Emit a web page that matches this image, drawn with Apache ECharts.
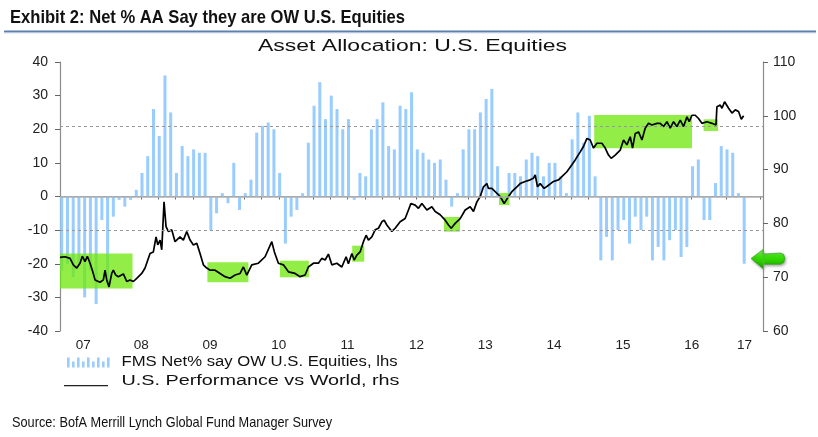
<!DOCTYPE html>
<html>
<head>
<meta charset="utf-8">
<script src="https://cdn.jsdelivr.net/npm/echarts@6/dist/echarts.min.js"></script>
<style>html,body{margin:0;padding:0;background:#fff;}#c{width:818px;height:437px;}</style>
</head>
<body>
<div id="c"></div>
<script>
// ---------- data ----------
// x positions are months since Jan 2007 (0 = Jan 2007)
const surveyStart = [2007, 5]; // first survey month (May 2007)
const fmsValues = [-22,-20,-24,-20,-30,-22,-32,-7,-26,-6,-1,-3,-1,2,7,12,26,18,36,25,7,15,12,14,13,13,-10,-5,1,-2,10,-4,1,5,19,21,22,20,7,-14,-6,-4,1,16,27,34,23,30,26,20,23,-1,7,6,20,23,28,15,14,27,26,31,14,13,11,10,11,5,-3,1,14,20,20,25,29,32,9,-1,7,7,6,11,13,12,6,10,10,6,1,17,25,16,24,6,-19,-12,-19,-10,-7,-14,-6,-10,-6,-19,-15,-19,-13,-10,-18,-15,9,11,-7,-7,4,15,14,13,1,-20];
const perfPoints = [[3.85,73.7],[4.73,73.8],[5.60,73.5],[6.17,72.3],[6.77,71.7],[7.34,72.6],[7.74,73.9],[8.21,72.9],[8.62,73.9],[9.09,72.6],[9.49,71.3],[9.96,69.5],[10.83,69.05],[11.41,69.5],[11.70,71.3],[12.00,69.5],[12.40,68.2],[12.87,70.7],[13.15,71.3],[13.57,70.4],[14.02,70.1],[14.90,70.6],[15.49,69.2],[16.06,69.5],[16.64,69.2],[17.23,69.8],[18.10,70.7],[18.68,71.7],[19.55,74.4],[20.13,74.7],[20.60,77.5],[20.90,76.0],[21.30,76.9],[21.59,75.1],[21.99,84.0],[22.34,79.4],[22.74,78.5],[23.34,78.8],[23.91,76.6],[24.78,77.5],[25.36,76.9],[25.95,78.5],[26.53,76.9],[27.11,76.0],[27.70,76.3],[28.27,74.4],[28.85,72.3],[29.44,71.7],[30.02,71.3],[30.89,71.3],[31.76,70.7],[32.63,70.1],[33.51,69.8],[34.38,70.4],[35.25,70.7],[35.83,71.9],[36.42,70.4],[37.29,72.3],[38.44,72.6],[39.61,73.8],[40.78,76.6],[41.23,74.7],[41.93,72.6],[42.80,72.3],[43.68,71.0],[44.84,70.7],[45.72,70.1],[46.59,70.4],[47.16,71.9],[48.04,72.6],[48.91,72.6],[49.50,73.5],[50.08,73.2],[50.65,74.3],[51.25,72.3],[52.12,72.6],[52.99,71.9],[53.74,73.8],[54.14,72.5],[54.74,74.4],[55.14,73.2],[55.61,74.1],[56.18,74.7],[56.76,76.6],[57.23,77.8],[57.63,76.9],[58.22,77.5],[58.80,78.8],[59.38,79.1],[59.97,80.3],[60.37,80.6],[60.84,79.7],[61.71,78.5],[62.29,79.1],[63.16,80.3],[64.03,80.9],[64.61,82.5],[65.03,83.7],[65.78,83.4],[66.35,82.8],[66.95,83.7],[67.82,82.5],[68.69,83.1],[69.27,82.2],[70.14,81.6],[71.01,80.6],[71.59,79.7],[72.06,79.1],[72.76,80.0],[73.63,80.9],[74.50,82.5],[75.37,83.1],[75.95,82.2],[76.54,84.0],[77.12,85.0],[77.69,86.8],[78.28,87.4],[78.56,86.5],[79.15,86.5],[79.73,85.9],[80.60,85.0],[81.30,83.7],[82.05,85.0],[82.64,85.9],[83.52,86.8],[84.09,87.4],[84.96,87.8],[85.83,88.1],[86.41,88.4],[86.71,89.0],[87.11,86.8],[87.58,87.4],[88.28,86.5],[89.03,87.1],[89.90,87.8],[90.77,88.1],[91.36,88.7],[92.24,89.6],[93.11,90.9],[93.68,91.8],[94.56,93.3],[95.13,94.3],[95.73,95.8],[96.30,95.5],[96.88,94.0],[97.47,94.9],[98.34,94.9],[98.92,94.0],[99.49,92.7],[99.96,92.1],[100.66,92.7],[101.53,93.6],[102.11,95.5],[102.70,94.6],[103.28,96.1],[103.68,94.0],[104.15,96.7],[104.73,97.0],[105.32,95.5],[105.89,97.7],[106.47,98.6],[107.06,98.3],[107.93,98.6],[108.51,98.6],[109.09,98.0],[109.68,98.9],[110.25,97.7],[110.83,98.9],[111.42,98.0],[112.00,99.2],[112.58,98.0],[113.17,99.8],[113.57,98.9],[114.04,100.1],[114.61,100.1],[115.19,99.5],[115.78,98.6],[116.66,98.9],[117.53,98.6],[118.23,98.3],[118.40,101.7],[118.98,102.0],[119.28,101.4],[119.73,102.6],[120.43,101.4],[121.02,100.5],[121.60,101.1],[122.17,100.8],[122.65,99.35],[123.05,100.0]];
// highlight boxes: [xStart, xEnd, rhsLow, rhsHigh]
const highlightBoxes = [[3.85,16.5,67.9,74.4],[29.55,36.7,69.05,72.8],[42.2,47.25,69.98,73.07],[54.8,56.9,72.88,75.86],[70.8,73.6,78.46,81.2],[80.4,82.2,83.4,85.65],[97.0,114.05,93.96,100.15],[116.07,118.6,97.17,99.35]];
const refLevels = [21, -10]; // dotted reference lines (lhs)
const yearLabels = ['07','08','09','10','11','12','13','14','15','16','17'];
const seriesNames = ['FMS Net% say OW U.S. Equities, lhs', 'U.S. Performance vs World, rhs'];
const titleText = 'Exhibit 2: Net % AA Say they are OW U.S. Equities';
const subtitleText = 'Asset Allocation: U.S. Equities';
const sourceText = 'Source: BofA Merrill Lynch Global Fund Manager Survey';

// ---------- derived ----------
const X_MIN = 3.85, X_MAX = 126.43;
const firstIdx = (surveyStart[0] - 2007) * 12 + (surveyStart[1] - 1);
const barData = fmsValues.map((v, i) => [firstIdx + i + 0.15, v]);
const tickVals = [];
for (let m = 6; m <= 126; m += 3) tickVals.push(m);
const labelVals = yearLabels.map((l, i) => {
  const s = Math.max(i * 12, X_MIN), e = Math.min((i + 1) * 12, X_MAX);
  return (s + e) / 2;
});

const mctx = document.createElement('canvas').getContext('2d');
function fitScale(text, font, target) { mctx.font = font; return target / mctx.measureText(text).width; }
const ARIAL = "'Liberation Sans', Arial, sans-serif";
const titleFont = 'bold 18.5px ' + ARIAL;
const subFont = '16px ' + ARIAL;
const legFont = '14px ' + ARIAL;
const srcFont = '15px ' + ARIAL;

function txt(text, font, x, y, width, align) {
  return {type: 'text', x: x, y: y, scaleX: fitScale(text, font, width), scaleY: 1, silent: true,
    style: {text: text, font: font, fill: '#111', textAlign: align || 'left', textVerticalAlign: 'middle'}};
}

// legend bar icon (decorative mini bars)
const legendBars = [];
const iconHeights = [10, 6, 10, 6, 10, 6, 10, 6, 10];
iconHeights.forEach((h, k) => legendBars.push({type: 'rect', silent: true,
  shape: {x: 67 + k * 5, y: 367.5 - h, width: 2.6, height: h}, style: {fill: '#99ccff'}}));

const chart = echarts.init(document.getElementById('c'), null, {renderer: 'canvas'});
const axisGray = '#8c8c8c';
chart.setOption({
  animation: false,
  backgroundColor: '#fff',
  grid: {left: 60, right: 55, top: 62, bottom: 106, containLabel: false},
  xAxis: {
    type: 'value', min: X_MIN, max: X_MAX,
    axisLine: {show: true, lineStyle: {color: axisGray, width: 1.2}},
    axisTick: {show: true, length: 3, inside: false, customValues: tickVals, lineStyle: {color: '#666'}},
    axisLabel: {customValues: labelVals, margin: 7, fontFamily: ARIAL, fontSize: 13.5, color: '#222',
      formatter: v => yearLabels[Math.min(yearLabels.length - 1, Math.floor(v / 12))]},
    splitLine: {show: false}
  },
  yAxis: [
    {type: 'value', min: -40, max: 40, interval: 10, position: 'left',
     axisLine: {show: true, lineStyle: {color: axisGray, width: 1.2}},
     axisTick: {show: true, length: 5, lineStyle: {color: '#666'}},
     axisLabel: {margin: 12, fontFamily: ARIAL, fontSize: 14, color: '#222'},
     splitLine: {show: false}},
    {type: 'value', min: 60, max: 110, interval: 10, position: 'right',
     axisLine: {show: true, lineStyle: {color: axisGray, width: 1.2}},
     axisTick: {show: true, length: 5, lineStyle: {color: '#666'}},
     axisLabel: {margin: 10, fontFamily: ARIAL, fontSize: 14, color: '#222'},
     splitLine: {show: false}}
  ],
  series: [
    {name: seriesNames[0], type: 'bar', yAxisIndex: 0, barWidth: 3, z: 2,
     itemStyle: {color: '#99ccff'}, data: barData,
     markLine: {silent: true, symbol: 'none', label: {show: false},
       data: [{yAxis: 0, lineStyle: {color: '#b0b0b0', width: 1.6, type: 'solid'}}]
         .concat(refLevels.map(v => ({yAxis: v, lineStyle: {color: '#999', width: 1, type: [3, 3]}})))}},
    {name: 'boxes', type: 'custom', yAxisIndex: 1, z: 3, silent: true,
     data: highlightBoxes, encode: {x: [0, 1], y: [2, 3]},
     renderItem: function (params, api) {
       const p1 = api.coord([api.value(0), api.value(3)]);
       const p2 = api.coord([api.value(1), api.value(2)]);
       return {type: 'rect', shape: {x: p1[0], y: p1[1], width: p2[0] - p1[0], height: p2[1] - p1[1]},
               style: {fill: 'rgba(110,232,8,0.75)'}};
     }},
    {name: seriesNames[1], type: 'line', yAxisIndex: 1, z: 4, symbol: 'none', showSymbol: false,
     lineStyle: {color: '#000', width: 1.7}, itemStyle: {color: '#000'}, data: perfPoints}
  ],
  graphic: [
    txt(titleText, titleFont, 10, 18, 395, 'left'),
    {type: 'rect', silent: true, shape: {x: 4, y: 30.5, width: 812, height: 1.6}, style: {fill: '#5d7fae'}},
    {type: 'rect', silent: true, shape: {x: 4, y: 32.1, width: 812, height: 1.2}, style: {fill: '#b3c3dc'}},
    txt(subtitleText, subFont, 412.5, 46.5, 309, 'center'),
    txt(seriesNames[0], legFont, 121.5, 362.5, 276, 'left'),
    txt(seriesNames[1], legFont, 121.5, 381, 278, 'left'),
    {type: 'rect', silent: true, shape: {x: 64, y: 385, width: 44, height: 1.2}, style: {fill: '#222'}},
    txt(sourceText, srcFont, 12, 423, 320, 'left'),
    {type: 'polygon', silent: true, shape: {points: [[751, 258.5], [763, 249.5], [763, 254], [780.5, 253], [783.5, 254.3], [784.8, 258], [783.8, 262.5], [780.5, 264.2], [763, 264.2], [763, 268.6]]},
     style: {fill: new echarts.graphic.LinearGradient(0, 0, 0, 1, [{offset: 0, color: '#7cf85a'}, {offset: 0.45, color: '#33dd00'}, {offset: 1, color: '#1ea000'}]),
       stroke: '#2a9a10', lineWidth: 0.6, shadowBlur: 3, shadowOffsetX: 1, shadowOffsetY: 1.5, shadowColor: 'rgba(0,0,0,0.35)'}}
  ].concat(legendBars)
});
</script>
</body>
</html>
